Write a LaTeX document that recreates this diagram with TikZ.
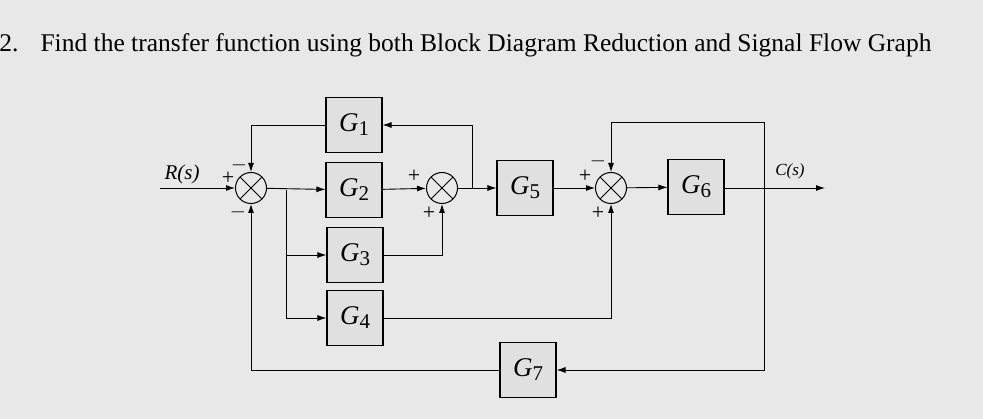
\documentclass[tikz,border=0pt]{standalone}
\usepackage{fontspec}
\setmainfont{Liberation Serif}
\usetikzlibrary{arrows.meta}
\newcommand{\gl}[1]{\fontsize{27}{27}\selectfont\textit{G}\raisebox{-4pt}{\fontsize{21}{21}\selectfont #1}}
\begin{document}
\begin{tikzpicture}[x=1pt,y=-1pt,
  blk/.style={draw,line width=1.1pt,fill=black!12,minimum width=56pt,minimum height=55pt,inner sep=0pt},
  sumj/.style={draw,line width=1pt,circle,minimum size=31pt,inner sep=0pt,path picture={\draw[line width=0.9pt] (path picture bounding box.north west)++(4.5pt,-4.5pt) -- ([shift={(-4.5pt,4.5pt)}]path picture bounding box.south east); \draw[line width=0.9pt] ([shift={(4.5pt,4.5pt)}]path picture bounding box.south west) -- ([shift={(-4.5pt,-4.5pt)}]path picture bounding box.north east);}},
  sig/.style={line width=0.9pt,-{Latex[length=9pt,width=6pt]}},
  sg/.style={font=\fontsize{22}{22}\selectfont,inner sep=0pt}]
\fill[black!9] (0,0) rectangle (983,419);
\useasboundingbox (0,0) rectangle (983,419);
\node[anchor=base east,font=\fontsize{25.5}{25.5}\selectfont] (num) at (22,52) {2.};
\node[anchor=base west,font=\fontsize{25.5}{25.5}\selectfont] (title) at (37,52) {Find the transfer function using both Block Diagram Reduction and Signal Flow Graph};
\node[sumj] (s1) at (251,188) {};
\node[sumj] (s2) at (442,188) {};
\node[sumj] (s3) at (611,188) {};
\node[blk] (g1) at (354,125) {\gl{1}};
\node[blk] (g2) at (354,190) {\gl{2}};
\node[blk] (g3) at (355,255) {\gl{3}};
\node[blk] (g4) at (355,318) {\gl{4}};
\node[blk] (g5) at (525,188) {\gl{5}};
\node[blk] (g6) at (696,187) {\gl{6}};
\node[blk] (g7) at (528,370) {\gl{7}};
\coordinate (rin) at (160,188);
\coordinate (cout) at (825,188);
\coordinate (b1) at (286,190);
\coordinate (b2) at (472,188);
\coordinate (b3) at (764,188);
\coordinate (top3) at (611,122);
\node[font=\fontsize{21}{21}\selectfont\itshape] (rl) at (182,174) {R(s)};
\node[font=\fontsize{17}{17}\selectfont\itshape] (cl) at (790,171) {C(s)};
\draw[sig] (rin) -- (s1);
\draw[sig] (s1) -- (g2);
\draw[sig] (b1) |- (g3);
\draw[sig] (b1) |- (g4);
\draw[sig] (g2) -- (s2);
\draw[sig] (g3.east) -| (s2.south);
\draw[sig] (s2) -- (g5);
\draw[sig] (b2) |- (g1.east);
\draw[sig] (g1.west) -| (s1.north);
\draw[sig] (g5) -- (s3);
\draw[sig] (g4.east) -| (s3.south);
\draw[sig] (s3) -- (g6);
\draw[sig] (g6.east|-cout) -- (cout);
\draw[sig] (b3) |- (top3) -- (s3.north);
\draw[sig] (b3) |- (g7.east);
\draw[sig] (g7.west) -| (s1.south);
\node[sg] (p1) at (228,178) {+};
\node[sg] (m1t) at (239,165) {$-$};
\node[sg] (m1b) at (238,212) {$-$};
\node[sg] (p2l) at (414,176) {+};
\node[sg] (p2b) at (429,213) {+};
\node[sg] (p3l) at (585,176) {+};
\node[sg] (m3t) at (598,161) {$-$};
\node[sg] (p3b) at (598,213) {+};
\end{tikzpicture}
\end{document}
